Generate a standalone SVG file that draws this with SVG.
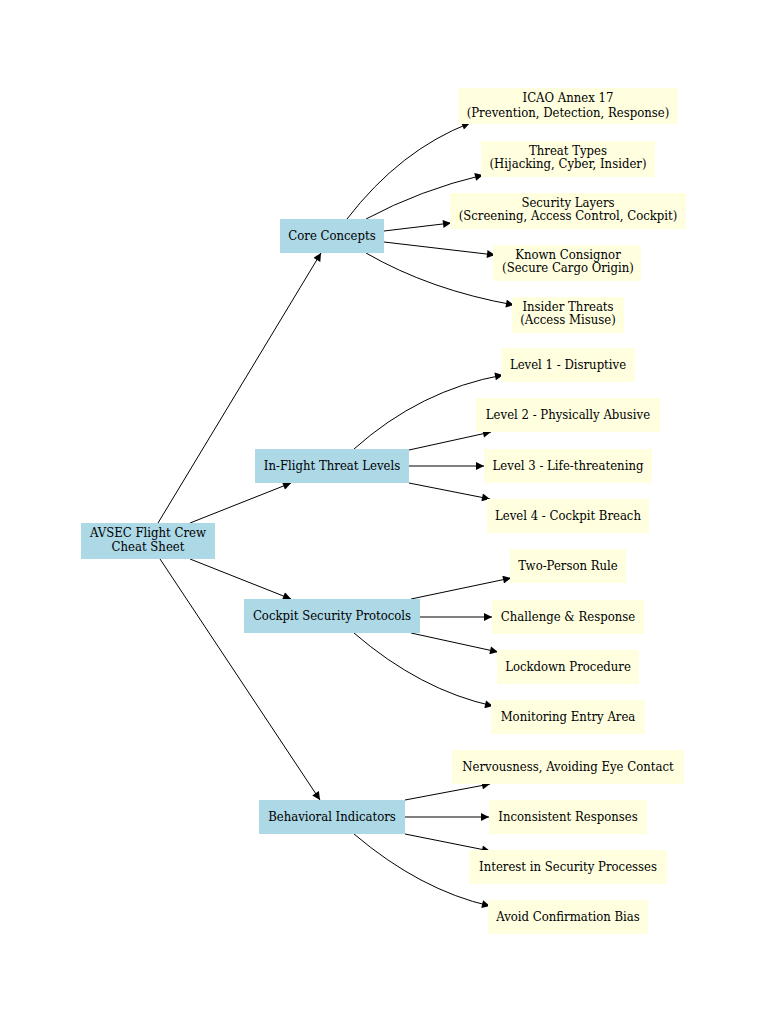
<svg xmlns="http://www.w3.org/2000/svg" width="768" height="1024" viewBox="0 0 768 1024">
<style>
.h rect{fill:#add8e6}
.l rect{fill:#ffffe0}
text{font-family:"DejaVu Serif","Liberation Serif",serif;font-size:13px;font-stretch:condensed;text-anchor:middle;fill:#000}
#edges path{fill:none;stroke:#000;stroke-width:1;marker-end:url(#a)}
</style>
<defs><marker id="a" viewBox="0 0 10 10" refX="10" refY="5" markerWidth="10" markerHeight="8" markerUnits="userSpaceOnUse" orient="auto"><path d="M0,0L10,5L0,10z" fill="#000"/></marker></defs>
<rect width="768" height="1024" fill="#fff"/>
<g id="edges">
<path d="M158,523L321,253"/>
<path d="M190,523L291,483"/>
<path d="M190,559L291,599"/>
<path d="M160,559L320,800"/>
<path d="M347,219Q400,150 470,123"/>
<path d="M366,219Q420,190 483,175"/>
<path d="M384,231L451,223"/>
<path d="M384,242L495,255"/>
<path d="M366,253Q430,290 514,305"/>
<path d="M354,449Q420,390 503,375"/>
<path d="M409,450L491,432"/>
<path d="M409,466L484,466"/>
<path d="M409,483L490,499"/>
<path d="M411,599L511,578"/>
<path d="M420,617L492,617"/>
<path d="M411,633L498,652"/>
<path d="M354,633Q420,690 493,706"/>
<path d="M405,800L490,784"/>
<path d="M405,817L489,817"/>
<path d="M405,834L490,851"/>
<path d="M354,834Q420,890 490,906"/>
</g>
<g id="root" class="h"><rect x="81" y="523" width="134" height="36"/><text x="148" y="537">AVSEC Flight Crew</text><text x="148" y="551">Cheat Sheet</text></g>
<g id="core" class="h"><rect x="280" y="219" width="104" height="34"/><text x="332" y="240">Core Concepts</text></g>
<g id="inflight" class="h"><rect x="255" y="449" width="154" height="34"/><text x="332" y="470">In-Flight Threat Levels</text></g>
<g id="cockpit" class="h"><rect x="244" y="599" width="176" height="34"/><text x="332" y="620">Cockpit Security Protocols</text></g>
<g id="behav" class="h"><rect x="259" y="800" width="146" height="34"/><text x="332" y="821">Behavioral Indicators</text></g>
<g id="icao" class="l"><rect x="458" y="88" width="220" height="36"/><text x="568" y="102">ICAO Annex 17</text><text x="568" y="117">(Prevention, Detection, Response)</text></g>
<g id="types" class="l"><rect x="481" y="141" width="174" height="36"/><text x="568" y="155">Threat Types</text><text x="568" y="168">(Hijacking, Cyber, Insider)</text></g>
<g id="layers" class="l"><rect x="450" y="193" width="236" height="36"/><text x="568" y="207">Security Layers</text><text x="568" y="220">(Screening, Access Control, Cockpit)</text></g>
<g id="known" class="l"><rect x="493" y="245" width="148" height="36"/><text x="568" y="259">Known Consignor</text><text x="568" y="272">(Secure Cargo Origin)</text></g>
<g id="insider" class="l"><rect x="512" y="297" width="112" height="36"/><text x="568" y="311">Insider Threats</text><text x="568" y="324">(Access Misuse)</text></g>
<g id="l1" class="l"><rect x="501" y="348" width="134" height="34"/><text x="568" y="369">Level 1 - Disruptive</text></g>
<g id="l2" class="l"><rect x="476" y="398" width="184" height="34"/><text x="568" y="419">Level 2 - Physically Abusive</text></g>
<g id="l3" class="l"><rect x="484" y="449" width="168" height="34"/><text x="568" y="470">Level 3 - Life-threatening</text></g>
<g id="l4" class="l"><rect x="487" y="499" width="162" height="34"/><text x="568" y="520">Level 4 - Cockpit Breach</text></g>
<g id="two" class="l"><rect x="510" y="549" width="116" height="34"/><text x="568" y="570">Two-Person Rule</text></g>
<g id="chal" class="l"><rect x="492" y="600" width="152" height="34"/><text x="568" y="621">Challenge &amp; Response</text></g>
<g id="lock" class="l"><rect x="497" y="650" width="142" height="34"/><text x="568" y="671">Lockdown Procedure</text></g>
<g id="mon" class="l"><rect x="491" y="700" width="154" height="34"/><text x="568" y="721">Monitoring Entry Area</text></g>
<g id="nerv" class="l"><rect x="452" y="750" width="232" height="34"/><text x="568" y="771">Nervousness, Avoiding Eye Contact</text></g>
<g id="inc" class="l"><rect x="489" y="800" width="158" height="34"/><text x="568" y="821">Inconsistent Responses</text></g>
<g id="int" class="l"><rect x="469" y="850" width="198" height="34"/><text x="568" y="871">Interest in Security Processes</text></g>
<g id="avoid" class="l"><rect x="488" y="900" width="160" height="34"/><text x="568" y="921">Avoid Confirmation Bias</text></g>
</svg>
